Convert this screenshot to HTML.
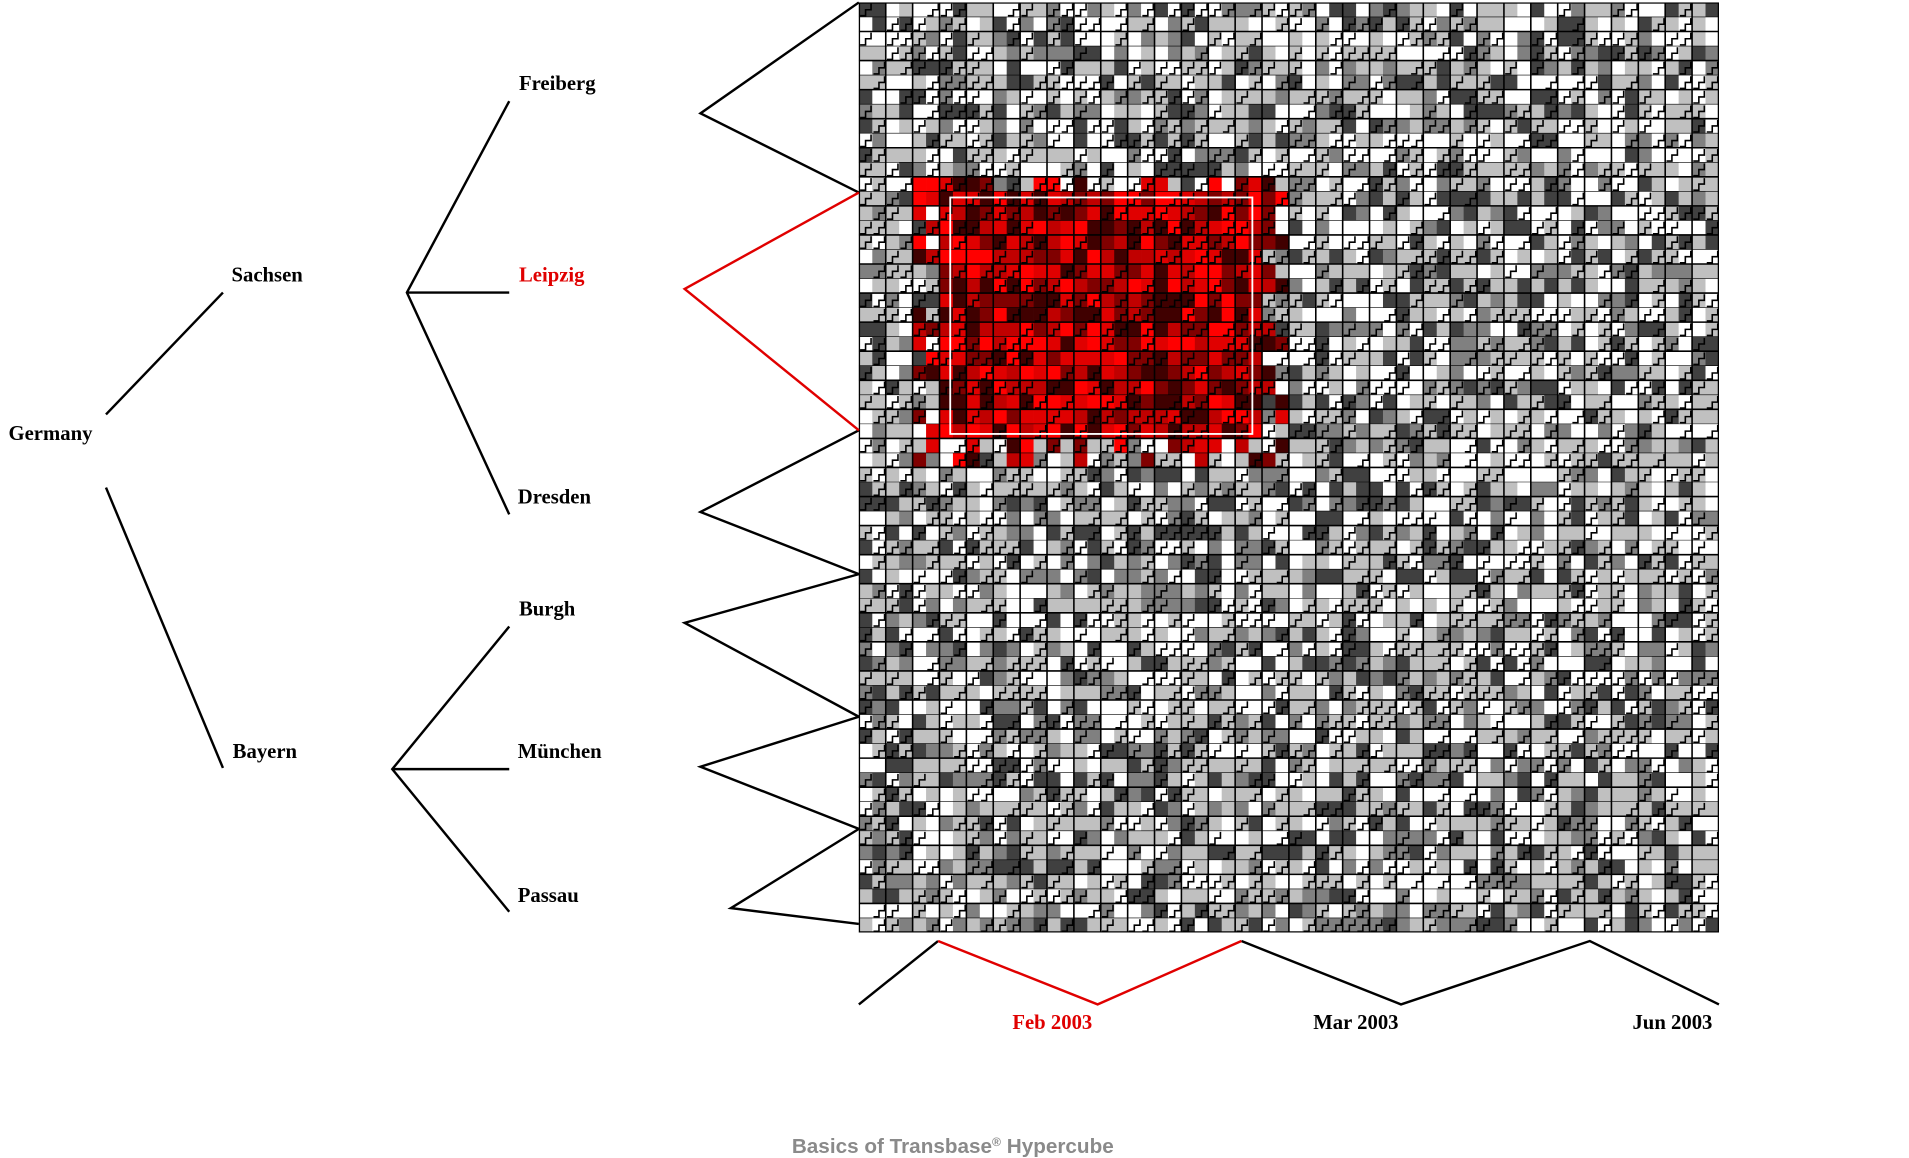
<!DOCTYPE html>
<html><head><meta charset="utf-8"><style>html,body{margin:0;padding:0;background:#fff;overflow:hidden}svg{display:block}</style></head>
<body>
<svg id="s" width="1909" height="1158" viewBox="0 0 1567 950" preserveAspectRatio="none" xmlns="http://www.w3.org/2000/svg">
<defs><clipPath id="cp"><rect x="705" y="2" width="706" height="763"/></clipPath></defs>
<g id="grid" clip-path="url(#cp)"></g>
<g id="gl" stroke="#000" stroke-width="1" clip-path="url(#cp)"></g>
<rect x="705.5" y="2.5" width="705" height="762" fill="none" stroke="#000" stroke-width="1"/>
<rect x="780" y="162" width="248" height="194" fill="none" stroke="#fff" stroke-width="1.5"/>
<g fill="none" stroke="#000" stroke-width="2">
<polyline points="87,340 183,240"/><polyline points="87,400 183,630"/>
<polyline points="418,83 334,240 418,422"/><polyline points="334,240 418,240"/>
<polyline points="418,514 322,631 418,748"/><polyline points="322,631 418,631"/>
<polyline points="705,2 575,93 705,158"/>
<polyline points="705,353 575,420 705,471"/>
<polyline points="705,471 562,511 705,588"/>
<polyline points="705,588 575,629 705,680"/>
<polyline points="705,680 600,745 705,758"/>
<polyline points="705,824 770,772"/>
<polyline points="1019,772 1150,824 1305,772 1411,824"/>
</g>
<g fill="none" stroke="#e00000" stroke-width="2">
<polyline points="705,158 562,237 705,353"/>
<polyline points="770,772 901,824 1019,772"/>
</g>
<g font-family="Liberation Serif, serif" font-weight="bold" font-size="17" fill="#000">
<text x="426" y="74">Freiberg</text>
<text x="190" y="231">Sachsen</text>
<text x="426" y="231" fill="#e00000">Leipzig</text>
<text x="7" y="361">Germany</text>
<text x="425" y="413">Dresden</text>
<text x="426" y="505">Burgh</text>
<text x="191" y="622">Bayern</text>
<text x="425" y="622">München</text>
<text x="425" y="740">Passau</text>
<text x="831" y="844" fill="#e00000">Feb 2003</text>
<text x="1078" y="844">Mar 2003</text>
<text x="1340" y="844">Jun 2003</text>
</g>
<text x="650" y="946" font-family="Liberation Sans, sans-serif" font-weight="bold" font-size="17" fill="#8a8a8a">Basics of Transbase<tspan font-size="10" dy="-6">®</tspan><tspan dy="6"> Hypercube</tspan></text>
</svg>
<script>
(function(){
var seed=12345;function r(){seed=(seed*1103515245+12345)%2147483648;return seed/2147483648;}
var g=document.getElementById('grid'),gl=document.getElementById('gl');
var x0=705,y0=2,W=706,H=763,C=64,R=64,cw=W/C,rh=H/R;
var grays=['#ffffff','#c0c0c0','#808080','#404040','#ffffff','#c0c0c0'];
var reds=['#ff0000','#c00000','#800000','#400000','#e00000'];
var s='';
for(var i=0;i<R;i++)for(var j=0;j<C;j++){
 var x=x0+j*cw,y=y0+i*rh,cx=x+cw/2,cy=y+rh/2;
 var inR=(cx>772&&cx<1036&&cy>155&&cy<362);
 var edge=(cx>748&&cx<1058&&cy>145&&cy<380)&&r()<0.45;
 var c=(inR||edge)?reds[Math.floor(r()*reds.length)]:grays[Math.floor(r()*grays.length)];
 s+='<rect x="'+x.toFixed(2)+'" y="'+y.toFixed(2)+'" width="'+(cw+0.3).toFixed(2)+'" height="'+(rh+0.3).toFixed(2)+'" fill="'+c+'"/>';
 if(r()<0.45){s+='<polyline points="'+(x+1).toFixed(1)+','+(y+rh-1).toFixed(1)+' '+(x+cw/2).toFixed(1)+','+(y+rh-1).toFixed(1)+' '+(x+cw/2).toFixed(1)+','+(y+rh/2).toFixed(1)+' '+(x+cw-1).toFixed(1)+','+(y+rh/2).toFixed(1)+' '+(x+cw-1).toFixed(1)+','+(y+1).toFixed(1)+'" fill="none" stroke="#000" stroke-width="1.3"/>';}
}
g.innerHTML=s;
var l='';
for(var j=0;j<=32;j++){var x=x0+j*W/32;l+='<line x1="'+x+'" y1="2" x2="'+x+'" y2="765" stroke-width="1.3"/>';}
for(var i=0;i<=32;i++){var y=y0+i*H/32;l+='<line x1="705" y1="'+y+'" x2="1411" y2="'+y+'" stroke-width="1.3"/>';}
for(var i=0;i<64;i+=2){var y=y0+(i+1)*rh;l+='<line x1="705" y1="'+y+'" x2="1411" y2="'+y+'" stroke-width="0.5"/>';}
gl.innerHTML=l;
})();
</script>
</body></html>
